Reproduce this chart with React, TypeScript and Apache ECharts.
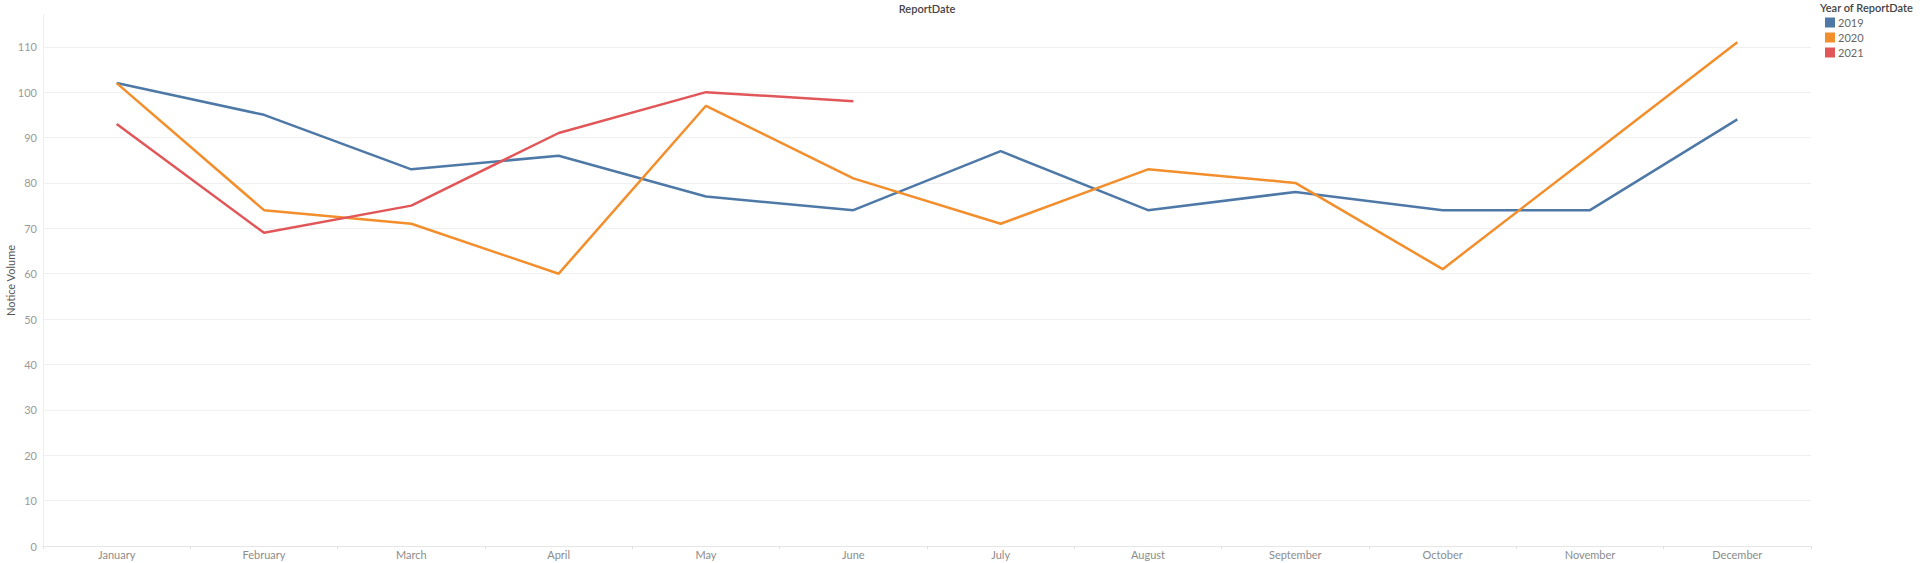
import { useEffect, useRef } from 'react';
import * as echarts from 'echarts';

const months = [
  'January', 'February', 'March', 'April', 'May', 'June',
  'July', 'August', 'September', 'October', 'November', 'December',
];
const years = ['2019', '2020', '2021'];
const volume2019 = [102, 95, 83, 86, 77, 74, 87, 74, 78, 74, 74, 94];
const volume2020 = [102, 74, 71, 60, 97, 81, 71, 83, 80, 61, 86, 111];
const volume2021 = [93, 69, 75, 91, 100, 98];
const yearColors = ['#4e79a7', '#f28e2b', '#e15759'];

const FONT = 'Lato, "Open Sans", sans-serif';

function App() {
  const chartRef = useRef<HTMLDivElement>(null);

  useEffect(() => {
    if (!chartRef.current) return;
    const chart = echarts.init(chartRef.current, null, { renderer: 'svg' });
    const allValues = [volume2019, volume2020, volume2021];

    // 12 visible gridlines (0..110), the extra top one at the axis max stays hidden
    const gridColors = [...Array(12).fill('#f0f0f0'), 'rgba(0,0,0,0)'];

    chart.setOption({
      animation: false,
      textStyle: { fontFamily: FONT },
      grid: { left: 43, right: 109, top: 15, bottom: 17, containLabel: false, outerBoundsMode: 'none' },
      graphic: [
        {
          type: 'text',
          x: 927,
          y: 3,
          style: {
            text: 'ReportDate',
            fontFamily: FONT,
            fontSize: 11,
            fontWeight: 600,
            fill: '#444',
            textAlign: 'center',
          },
        },
        {
          type: 'text',
          x: 1820,
          y: 2,
          style: {
            text: 'Year of ReportDate',
            fontFamily: FONT,
            fontSize: 11,
            fontWeight: 600,
            fill: '#444',
          },
        },
      ],
      legend: {
        orient: 'vertical',
        left: 1820,
        top: 12,
        icon: 'rect',
        itemWidth: 10,
        itemHeight: 10,
        itemGap: 4,
        data: years,
        textStyle: { fontFamily: FONT, fontSize: 11, color: '#666', padding: [0, 0, 0, -2] },
      },
      xAxis: {
        type: 'category',
        data: months,
        boundaryGap: true,
        axisLine: { lineStyle: { color: '#e6e6e6' } },
        axisTick: { show: true, length: 3, lineStyle: { color: '#e0e0e0' } },
        axisLabel: { fontFamily: FONT, fontSize: 11, color: '#8c8c8c', margin: 3 },
        splitLine: { show: false },
      },
      yAxis: {
        type: 'value',
        min: 0,
        max: 117,
        interval: 10,
        name: 'Notice Volume',
        nameLocation: 'middle',
        nameRotate: 90,
        nameGap: 27,
        nameMoveOverlap: false,
        nameTextStyle: { fontFamily: FONT, fontSize: 11, color: '#555' },
        axisLine: { show: true, lineStyle: { color: '#eeeeee' } },
        axisTick: { show: false },
        axisLabel: { fontFamily: FONT, fontSize: 11, color: '#999', margin: 6, showMaxLabel: false },
        splitLine: { show: true, lineStyle: { color: gridColors, width: 1 } },
      },
      series: years.map((y, i) => ({
        name: y,
        type: 'line',
        data: allValues[i],
        showSymbol: false,
        symbol: 'none',
        itemStyle: { color: yearColors[i] },
        lineStyle: { color: yearColors[i], width: 2.5 },
      })),
    });

    return () => chart.dispose();
  }, []);

  return (
    <div
      ref={chartRef}
      style={{ position: 'fixed', left: 0, top: 0, width: '1920px', height: '563px', background: '#fff' }}
    />
  );
}

export default App;
